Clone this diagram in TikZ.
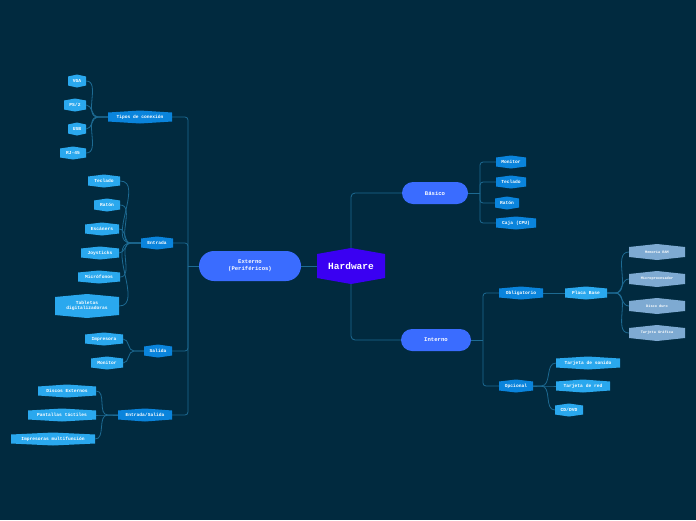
\documentclass[tikz,border=0pt]{standalone}
\usepackage{fontspec}
\setmonofont{Liberation Mono}
\usetikzlibrary{shapes.misc}
\definecolor{bg}{HTML}{012A3F}
\definecolor{hwc}{HTML}{3A00F2}
\definecolor{pill}{HTML}{3A6CFF}
\definecolor{lvl}{HTML}{0A84DC}
\definecolor{leaf}{HTML}{2AA8EE}
\definecolor{pale}{HTML}{7EAAD2}
\definecolor{ln}{HTML}{1D6A92}
\tikzset{
 txt/.style={text=white,font=\ttfamily\bfseries\fontsize{4.6}{5.4}\selectfont,inner sep=0pt,align=center},
 conn/.style={draw=ln,line width=0.8pt},
 pillbox/.style={rounded rectangle,fill=pill,text=white,font=\ttfamily\bfseries\fontsize{5.6}{7}\selectfont,align=center,inner sep=0pt},
}
\newcommand\hx[8][2]{%
 \fill[#7] (#3-#5/2,#4-#6/2+#1) -- (#3,#4-#6/2) -- (#3+#5/2,#4-#6/2+#1) -- (#3+#5/2,#4+#6/2-#1) -- (#3,#4+#6/2) -- (#3-#5/2,#4+#6/2-#1) -- cycle;
 \node[txt,minimum width=#5pt,minimum height=#6pt] (#2) at (#3,#4) {#8};}
\begin{document}
\begin{tikzpicture}[x=1pt,y=-1pt]
\fill[bg] (0,0) rectangle (696,520);
\useasboundingbox (0,0) rectangle (696,520);
\coordinate (tL) at (188,266);
\coordinate (tB) at (480,193);
\coordinate (tI) at (483,340);
% main
\hx[6]{hw}{351}{266}{68}{36}{hwc}{\fontsize{9.5}{11}\selectfont Hardware}
\node[pillbox,minimum width=102pt,minimum height=30pt] (ext) at (250,266) {Externo\\(Periféricos)};
\node[pillbox,minimum width=66pt,minimum height=22pt] (bas) at (435,193) {Básico};
\node[pillbox,minimum width=70pt,minimum height=22pt] (int) at (436,340) {Interno};
% left level
\hx{tipos}{140}{117}{64}{13}{lvl}{Tipos de conexión}
\hx{ent}{157}{243}{32}{13}{lvl}{Entrada}
\hx{sal}{158}{351}{28}{13}{lvl}{Salida}
\hx{es}{145}{415}{54}{13}{lvl}{Entrada/Salida}
\hx{vga}{77}{81}{18}{13}{leaf}{VGA}
\hx{ps}{75}{105}{22}{13}{leaf}{PS/2}
\hx{usb}{77}{129}{18}{13}{leaf}{USB}
\hx{rj}{73}{153}{26}{13}{leaf}{RJ-45}
\hx{tec}{104}{181}{32}{13}{leaf}{Teclado}
\hx{rat}{107}{205}{26}{13}{leaf}{Ratón}
\hx{esc}{102}{229}{34}{13}{leaf}{Escáners}
\hx{joy}{100}{253}{38}{13}{leaf}{Joysticks}
\hx{mic}{99}{277}{42}{13}{leaf}{Micrófonos}
\hx[3]{tab}{87}{306}{64}{24}{leaf}{Tabletas\\digitalizadoras}
\hx{imp}{104}{339}{38}{13}{leaf}{Impresora}
\hx{mon}{107}{363}{32}{13}{leaf}{Monitor}
\hx{dis}{67}{391}{58}{13}{leaf}{Discos Externos}
\hx{pan}{62}{415}{68}{13}{leaf}{Pantallas táctiles}
\hx{imu}{53}{439}{84}{13}{leaf}{Impresoras multifunción}
% right
\hx{bmon}{511}{162}{30}{13}{lvl}{Monitor}
\hx{btec}{511}{182}{30}{13}{lvl}{Teclado}
\hx{brat}{507}{203}{24}{13}{lvl}{Ratón}
\hx{bcaj}{516}{223}{40}{13}{lvl}{Caja (CPU)}
\hx{obl}{521}{293}{44}{13}{lvl}{Obligatorio}
\hx{pla}{586}{293}{42}{13}{leaf}{Placa Base}
\hx[3]{ram}{657}{252}{56}{16}{pale}{\fontsize{3.6}{4}\selectfont Memoria RAM}
\hx[3]{micro}{657}{279}{56}{16}{pale}{\fontsize{3.6}{4}\selectfont Microprocesador}
\hx[3]{disco}{657}{306}{56}{16}{pale}{\fontsize{3.6}{4}\selectfont Disco duro}
\hx[3]{graf}{657}{333}{56}{16}{pale}{\fontsize{3.6}{4}\selectfont Tarjeta Gráfica}
\hx{opc}{516}{386}{34}{13}{lvl}{Opcional}
\hx{son}{588}{363}{64}{13}{leaf}{Tarjeta de sonido}
\hx{red}{583}{386}{54}{13}{leaf}{Tarjeta de red}
\hx{cd}{569}{410}{28}{13}{leaf}{CD/DVD}
% connectors
\draw[conn] (hw.west) -- (ext.east);
\draw[conn,rounded corners=4pt] (hw.north) |- (bas.west);
\draw[conn,rounded corners=4pt] (hw.south) |- (int.west);
\draw[conn] (ext.west) -- (tL);
\foreach \c in {tipos,ent,sal,es} \draw[conn,rounded corners=3pt] (\c.east) -| (tL);
\draw[conn] (bas.east) -- (tB);
\foreach \c in {bmon,btec,brat,bcaj} \draw[conn,rounded corners=3pt] (\c.west) -| (tB);
\draw[conn] (int.east) -- (tI);
\foreach \c in {obl,opc} \draw[conn,rounded corners=3pt] (\c.west) -| (tI);
\draw[conn] (obl.east) -- (pla.west);
\foreach \c in {vga,ps,usb,rj} \draw[conn] (tipos.west) -- ++(-10,0) to[out=180,in=0] (\c.east);
\foreach \c in {tec,rat,esc,joy,mic,tab} \draw[conn] (ent.west) -- ++(-10,0) to[out=180,in=0] (\c.east);
\foreach \c in {imp,mon} \draw[conn] (sal.west) -- ++(-10,0) to[out=180,in=0] (\c.east);
\foreach \c in {dis,pan,imu} \draw[conn] (es.west) -- ++(-10,0) to[out=180,in=0] (\c.east);
\foreach \c in {ram,micro,disco,graf} \draw[conn] (pla.east) -- ++(8,0) to[out=0,in=180] (\c.west);
\foreach \c in {son,red,cd} \draw[conn] (opc.east) -- ++(8,0) to[out=0,in=180] (\c.west);
\end{tikzpicture}
\end{document}
